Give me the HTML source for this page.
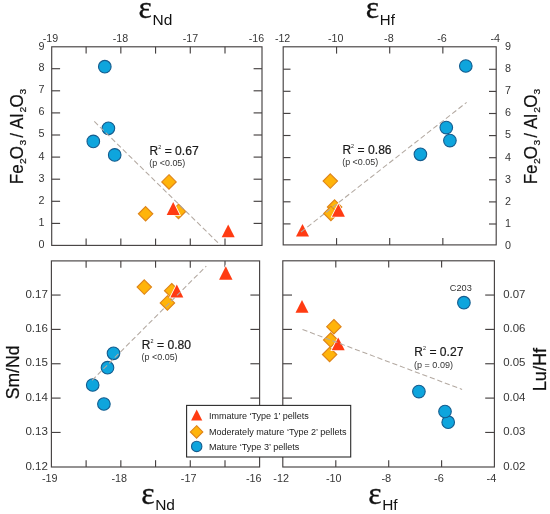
<!DOCTYPE html>
<html lang="en"><head><meta charset="utf-8"><title>Pellet isotope plots</title>
<style>
html,body{margin:0;padding:0;background:#fff;}
body{width:550px;height:514px;overflow:hidden;}
svg{display:block;font-family:"Liberation Sans","DejaVu Sans",sans-serif;}
</style></head><body>
<svg width="550" height="514" viewBox="0 0 550 514">
<rect x="0" y="0" width="550" height="514" fill="#ffffff"/>
<rect x="51.70" y="46.80" width="210.30" height="198.60" fill="none" stroke="#464242" stroke-width="1.15"/>
<rect x="283.20" y="46.80" width="213.00" height="198.10" fill="none" stroke="#464242" stroke-width="1.15"/>
<rect x="51.40" y="260.90" width="208.20" height="206.10" fill="none" stroke="#464242" stroke-width="1.15"/>
<rect x="282.80" y="260.80" width="211.60" height="206.20" fill="none" stroke="#464242" stroke-width="1.15"/>
<line x1="86.12" y1="46.80" x2="86.12" y2="53.60" stroke="#464242" stroke-width="1.15" />
<line x1="86.12" y1="245.40" x2="86.12" y2="238.60" stroke="#464242" stroke-width="1.15" />
<line x1="86.12" y1="260.90" x2="86.12" y2="267.70" stroke="#464242" stroke-width="1.15" />
<line x1="86.12" y1="467.00" x2="86.12" y2="460.20" stroke="#464242" stroke-width="1.15" />
<line x1="120.84" y1="46.80" x2="120.84" y2="53.60" stroke="#464242" stroke-width="1.15" />
<line x1="120.84" y1="245.40" x2="120.84" y2="238.60" stroke="#464242" stroke-width="1.15" />
<line x1="120.84" y1="260.90" x2="120.84" y2="267.70" stroke="#464242" stroke-width="1.15" />
<line x1="120.84" y1="467.00" x2="120.84" y2="460.20" stroke="#464242" stroke-width="1.15" />
<line x1="155.56" y1="46.80" x2="155.56" y2="53.60" stroke="#464242" stroke-width="1.15" />
<line x1="155.56" y1="245.40" x2="155.56" y2="238.60" stroke="#464242" stroke-width="1.15" />
<line x1="155.56" y1="260.90" x2="155.56" y2="267.70" stroke="#464242" stroke-width="1.15" />
<line x1="155.56" y1="467.00" x2="155.56" y2="460.20" stroke="#464242" stroke-width="1.15" />
<line x1="190.28" y1="46.80" x2="190.28" y2="53.60" stroke="#464242" stroke-width="1.15" />
<line x1="190.28" y1="245.40" x2="190.28" y2="238.60" stroke="#464242" stroke-width="1.15" />
<line x1="190.28" y1="260.90" x2="190.28" y2="267.70" stroke="#464242" stroke-width="1.15" />
<line x1="190.28" y1="467.00" x2="190.28" y2="460.20" stroke="#464242" stroke-width="1.15" />
<line x1="225.00" y1="46.80" x2="225.00" y2="53.60" stroke="#464242" stroke-width="1.15" />
<line x1="225.00" y1="245.40" x2="225.00" y2="238.60" stroke="#464242" stroke-width="1.15" />
<line x1="225.00" y1="260.90" x2="225.00" y2="267.70" stroke="#464242" stroke-width="1.15" />
<line x1="225.00" y1="467.00" x2="225.00" y2="460.20" stroke="#464242" stroke-width="1.15" />
<line x1="336.55" y1="46.80" x2="336.55" y2="53.60" stroke="#464242" stroke-width="1.15" />
<line x1="336.55" y1="244.90" x2="336.55" y2="238.10" stroke="#464242" stroke-width="1.15" />
<line x1="389.70" y1="46.80" x2="389.70" y2="53.60" stroke="#464242" stroke-width="1.15" />
<line x1="389.70" y1="244.90" x2="389.70" y2="238.10" stroke="#464242" stroke-width="1.15" />
<line x1="442.85" y1="46.80" x2="442.85" y2="53.60" stroke="#464242" stroke-width="1.15" />
<line x1="442.85" y1="244.90" x2="442.85" y2="238.10" stroke="#464242" stroke-width="1.15" />
<line x1="335.80" y1="260.80" x2="335.80" y2="267.60" stroke="#464242" stroke-width="1.15" />
<line x1="335.80" y1="467.00" x2="335.80" y2="460.20" stroke="#464242" stroke-width="1.15" />
<line x1="388.70" y1="260.80" x2="388.70" y2="267.60" stroke="#464242" stroke-width="1.15" />
<line x1="388.70" y1="467.00" x2="388.70" y2="460.20" stroke="#464242" stroke-width="1.15" />
<line x1="441.60" y1="260.80" x2="441.60" y2="267.60" stroke="#464242" stroke-width="1.15" />
<line x1="441.60" y1="467.00" x2="441.60" y2="460.20" stroke="#464242" stroke-width="1.15" />
<line x1="51.70" y1="223.40" x2="60.10" y2="223.40" stroke="#464242" stroke-width="1.15" />
<line x1="262.00" y1="223.40" x2="253.60" y2="223.40" stroke="#464242" stroke-width="1.15" />
<line x1="283.20" y1="223.90" x2="290.50" y2="223.90" stroke="#464242" stroke-width="1.15" />
<line x1="496.20" y1="224.00" x2="489.00" y2="224.00" stroke="#464242" stroke-width="1.15" />
<line x1="51.70" y1="201.30" x2="60.10" y2="201.30" stroke="#464242" stroke-width="1.15" />
<line x1="262.00" y1="201.30" x2="253.60" y2="201.30" stroke="#464242" stroke-width="1.15" />
<line x1="283.20" y1="201.80" x2="290.50" y2="201.80" stroke="#464242" stroke-width="1.15" />
<line x1="496.20" y1="201.90" x2="489.00" y2="201.90" stroke="#464242" stroke-width="1.15" />
<line x1="51.70" y1="179.20" x2="60.10" y2="179.20" stroke="#464242" stroke-width="1.15" />
<line x1="262.00" y1="179.20" x2="253.60" y2="179.20" stroke="#464242" stroke-width="1.15" />
<line x1="283.20" y1="179.70" x2="290.50" y2="179.70" stroke="#464242" stroke-width="1.15" />
<line x1="496.20" y1="179.80" x2="489.00" y2="179.80" stroke="#464242" stroke-width="1.15" />
<line x1="51.70" y1="157.10" x2="60.10" y2="157.10" stroke="#464242" stroke-width="1.15" />
<line x1="262.00" y1="157.10" x2="253.60" y2="157.10" stroke="#464242" stroke-width="1.15" />
<line x1="283.20" y1="157.60" x2="290.50" y2="157.60" stroke="#464242" stroke-width="1.15" />
<line x1="496.20" y1="157.70" x2="489.00" y2="157.70" stroke="#464242" stroke-width="1.15" />
<line x1="51.70" y1="135.00" x2="60.10" y2="135.00" stroke="#464242" stroke-width="1.15" />
<line x1="262.00" y1="135.00" x2="253.60" y2="135.00" stroke="#464242" stroke-width="1.15" />
<line x1="283.20" y1="135.50" x2="290.50" y2="135.50" stroke="#464242" stroke-width="1.15" />
<line x1="496.20" y1="135.60" x2="489.00" y2="135.60" stroke="#464242" stroke-width="1.15" />
<line x1="51.70" y1="112.90" x2="60.10" y2="112.90" stroke="#464242" stroke-width="1.15" />
<line x1="262.00" y1="112.90" x2="253.60" y2="112.90" stroke="#464242" stroke-width="1.15" />
<line x1="283.20" y1="113.40" x2="290.50" y2="113.40" stroke="#464242" stroke-width="1.15" />
<line x1="496.20" y1="113.50" x2="489.00" y2="113.50" stroke="#464242" stroke-width="1.15" />
<line x1="51.70" y1="90.80" x2="60.10" y2="90.80" stroke="#464242" stroke-width="1.15" />
<line x1="262.00" y1="90.80" x2="253.60" y2="90.80" stroke="#464242" stroke-width="1.15" />
<line x1="283.20" y1="91.30" x2="290.50" y2="91.30" stroke="#464242" stroke-width="1.15" />
<line x1="496.20" y1="91.40" x2="489.00" y2="91.40" stroke="#464242" stroke-width="1.15" />
<line x1="51.70" y1="68.70" x2="60.10" y2="68.70" stroke="#464242" stroke-width="1.15" />
<line x1="262.00" y1="68.70" x2="253.60" y2="68.70" stroke="#464242" stroke-width="1.15" />
<line x1="283.20" y1="69.20" x2="290.50" y2="69.20" stroke="#464242" stroke-width="1.15" />
<line x1="496.20" y1="69.30" x2="489.00" y2="69.30" stroke="#464242" stroke-width="1.15" />
<line x1="51.40" y1="432.45" x2="60.60" y2="432.45" stroke="#464242" stroke-width="1.15" />
<line x1="259.60" y1="432.45" x2="250.40" y2="432.45" stroke="#464242" stroke-width="1.15" />
<line x1="282.80" y1="432.45" x2="292.00" y2="432.45" stroke="#464242" stroke-width="1.15" />
<line x1="494.40" y1="432.45" x2="485.20" y2="432.45" stroke="#464242" stroke-width="1.15" />
<line x1="51.40" y1="398.10" x2="60.60" y2="398.10" stroke="#464242" stroke-width="1.15" />
<line x1="259.60" y1="398.10" x2="250.40" y2="398.10" stroke="#464242" stroke-width="1.15" />
<line x1="282.80" y1="398.10" x2="292.00" y2="398.10" stroke="#464242" stroke-width="1.15" />
<line x1="494.40" y1="398.10" x2="485.20" y2="398.10" stroke="#464242" stroke-width="1.15" />
<line x1="51.40" y1="363.75" x2="60.60" y2="363.75" stroke="#464242" stroke-width="1.15" />
<line x1="259.60" y1="363.75" x2="250.40" y2="363.75" stroke="#464242" stroke-width="1.15" />
<line x1="282.80" y1="363.75" x2="292.00" y2="363.75" stroke="#464242" stroke-width="1.15" />
<line x1="494.40" y1="363.75" x2="485.20" y2="363.75" stroke="#464242" stroke-width="1.15" />
<line x1="51.40" y1="329.40" x2="60.60" y2="329.40" stroke="#464242" stroke-width="1.15" />
<line x1="259.60" y1="329.40" x2="250.40" y2="329.40" stroke="#464242" stroke-width="1.15" />
<line x1="282.80" y1="329.40" x2="292.00" y2="329.40" stroke="#464242" stroke-width="1.15" />
<line x1="494.40" y1="329.40" x2="485.20" y2="329.40" stroke="#464242" stroke-width="1.15" />
<line x1="51.40" y1="295.05" x2="60.60" y2="295.05" stroke="#464242" stroke-width="1.15" />
<line x1="259.60" y1="295.05" x2="250.40" y2="295.05" stroke="#464242" stroke-width="1.15" />
<line x1="282.80" y1="295.05" x2="292.00" y2="295.05" stroke="#464242" stroke-width="1.15" />
<line x1="494.40" y1="295.05" x2="485.20" y2="295.05" stroke="#464242" stroke-width="1.15" />
<text x="50.40" y="41.80" font-size="10.5" text-anchor="middle" fill="#363636" textLength="15.40" lengthAdjust="spacingAndGlyphs" >-19</text>
<text x="120.40" y="41.80" font-size="10.5" text-anchor="middle" fill="#363636" textLength="15.40" lengthAdjust="spacingAndGlyphs" >-18</text>
<text x="190.40" y="41.80" font-size="10.5" text-anchor="middle" fill="#363636" textLength="15.40" lengthAdjust="spacingAndGlyphs" >-17</text>
<text x="256.40" y="41.80" font-size="10.5" text-anchor="middle" fill="#363636" textLength="15.40" lengthAdjust="spacingAndGlyphs" >-16</text>
<text x="282.60" y="41.80" font-size="10.5" text-anchor="middle" fill="#363636" textLength="15.40" lengthAdjust="spacingAndGlyphs" >-12</text>
<text x="335.75" y="41.80" font-size="10.5" text-anchor="middle" fill="#363636" textLength="15.40" lengthAdjust="spacingAndGlyphs" >-10</text>
<text x="388.90" y="41.80" font-size="10.5" text-anchor="middle" fill="#363636" textLength="9.60" lengthAdjust="spacingAndGlyphs" >-8</text>
<text x="442.05" y="41.80" font-size="10.5" text-anchor="middle" fill="#363636" textLength="9.60" lengthAdjust="spacingAndGlyphs" >-6</text>
<text x="495.20" y="41.80" font-size="10.5" text-anchor="middle" fill="#363636" textLength="9.60" lengthAdjust="spacingAndGlyphs" >-4</text>
<text x="44.40" y="247.90" font-size="10.5" text-anchor="end" fill="#363636" textLength="6.00" lengthAdjust="spacingAndGlyphs" >0</text>
<text x="505.00" y="248.90" font-size="10.5" text-anchor="start" fill="#363636" textLength="6.00" lengthAdjust="spacingAndGlyphs" >0</text>
<text x="44.40" y="225.80" font-size="10.5" text-anchor="end" fill="#363636" textLength="6.00" lengthAdjust="spacingAndGlyphs" >1</text>
<text x="505.00" y="226.80" font-size="10.5" text-anchor="start" fill="#363636" textLength="6.00" lengthAdjust="spacingAndGlyphs" >1</text>
<text x="44.40" y="203.70" font-size="10.5" text-anchor="end" fill="#363636" textLength="6.00" lengthAdjust="spacingAndGlyphs" >2</text>
<text x="505.00" y="204.70" font-size="10.5" text-anchor="start" fill="#363636" textLength="6.00" lengthAdjust="spacingAndGlyphs" >2</text>
<text x="44.40" y="181.60" font-size="10.5" text-anchor="end" fill="#363636" textLength="6.00" lengthAdjust="spacingAndGlyphs" >3</text>
<text x="505.00" y="182.60" font-size="10.5" text-anchor="start" fill="#363636" textLength="6.00" lengthAdjust="spacingAndGlyphs" >3</text>
<text x="44.40" y="159.50" font-size="10.5" text-anchor="end" fill="#363636" textLength="6.00" lengthAdjust="spacingAndGlyphs" >4</text>
<text x="505.00" y="160.50" font-size="10.5" text-anchor="start" fill="#363636" textLength="6.00" lengthAdjust="spacingAndGlyphs" >4</text>
<text x="44.40" y="137.40" font-size="10.5" text-anchor="end" fill="#363636" textLength="6.00" lengthAdjust="spacingAndGlyphs" >5</text>
<text x="505.00" y="138.40" font-size="10.5" text-anchor="start" fill="#363636" textLength="6.00" lengthAdjust="spacingAndGlyphs" >5</text>
<text x="44.40" y="115.30" font-size="10.5" text-anchor="end" fill="#363636" textLength="6.00" lengthAdjust="spacingAndGlyphs" >6</text>
<text x="505.00" y="116.30" font-size="10.5" text-anchor="start" fill="#363636" textLength="6.00" lengthAdjust="spacingAndGlyphs" >6</text>
<text x="44.40" y="93.20" font-size="10.5" text-anchor="end" fill="#363636" textLength="6.00" lengthAdjust="spacingAndGlyphs" >7</text>
<text x="505.00" y="94.20" font-size="10.5" text-anchor="start" fill="#363636" textLength="6.00" lengthAdjust="spacingAndGlyphs" >7</text>
<text x="44.40" y="71.10" font-size="10.5" text-anchor="end" fill="#363636" textLength="6.00" lengthAdjust="spacingAndGlyphs" >8</text>
<text x="505.00" y="72.10" font-size="10.5" text-anchor="start" fill="#363636" textLength="6.00" lengthAdjust="spacingAndGlyphs" >8</text>
<text x="44.40" y="49.80" font-size="10.5" text-anchor="end" fill="#363636" textLength="6.00" lengthAdjust="spacingAndGlyphs" >9</text>
<text x="505.00" y="49.50" font-size="10.5" text-anchor="start" fill="#363636" textLength="6.00" lengthAdjust="spacingAndGlyphs" >9</text>
<text x="49.80" y="482.30" font-size="10.5" text-anchor="middle" fill="#363636" textLength="15.60" lengthAdjust="spacingAndGlyphs" >-19</text>
<text x="119.24" y="482.30" font-size="10.5" text-anchor="middle" fill="#363636" textLength="15.60" lengthAdjust="spacingAndGlyphs" >-18</text>
<text x="188.68" y="482.30" font-size="10.5" text-anchor="middle" fill="#363636" textLength="15.60" lengthAdjust="spacingAndGlyphs" >-17</text>
<text x="253.72" y="482.30" font-size="10.5" text-anchor="middle" fill="#363636" textLength="15.60" lengthAdjust="spacingAndGlyphs" >-16</text>
<text x="281.10" y="482.30" font-size="10.5" text-anchor="middle" fill="#363636" textLength="15.60" lengthAdjust="spacingAndGlyphs" >-12</text>
<text x="333.70" y="482.30" font-size="10.5" text-anchor="middle" fill="#363636" textLength="15.60" lengthAdjust="spacingAndGlyphs" >-10</text>
<text x="386.30" y="482.30" font-size="10.5" text-anchor="middle" fill="#363636" textLength="9.80" lengthAdjust="spacingAndGlyphs" >-8</text>
<text x="438.90" y="482.30" font-size="10.5" text-anchor="middle" fill="#363636" textLength="9.80" lengthAdjust="spacingAndGlyphs" >-6</text>
<text x="491.50" y="482.30" font-size="10.5" text-anchor="middle" fill="#363636" textLength="9.80" lengthAdjust="spacingAndGlyphs" >-4</text>
<text x="47.90" y="470.00" font-size="10.5" text-anchor="end" fill="#363636" textLength="22.50" lengthAdjust="spacingAndGlyphs" >0.12</text>
<text x="47.90" y="435.05" font-size="10.5" text-anchor="end" fill="#363636" textLength="22.50" lengthAdjust="spacingAndGlyphs" >0.13</text>
<text x="47.90" y="400.70" font-size="10.5" text-anchor="end" fill="#363636" textLength="22.50" lengthAdjust="spacingAndGlyphs" >0.14</text>
<text x="47.90" y="366.35" font-size="10.5" text-anchor="end" fill="#363636" textLength="22.50" lengthAdjust="spacingAndGlyphs" >0.15</text>
<text x="47.90" y="332.00" font-size="10.5" text-anchor="end" fill="#363636" textLength="22.50" lengthAdjust="spacingAndGlyphs" >0.16</text>
<text x="47.90" y="297.65" font-size="10.5" text-anchor="end" fill="#363636" textLength="22.50" lengthAdjust="spacingAndGlyphs" >0.17</text>
<text x="503.20" y="470.00" font-size="10.5" text-anchor="start" fill="#363636" textLength="22.30" lengthAdjust="spacingAndGlyphs" >0.02</text>
<text x="503.20" y="435.05" font-size="10.5" text-anchor="start" fill="#363636" textLength="22.30" lengthAdjust="spacingAndGlyphs" >0.03</text>
<text x="503.20" y="400.70" font-size="10.5" text-anchor="start" fill="#363636" textLength="22.30" lengthAdjust="spacingAndGlyphs" >0.04</text>
<text x="503.20" y="366.35" font-size="10.5" text-anchor="start" fill="#363636" textLength="22.30" lengthAdjust="spacingAndGlyphs" >0.05</text>
<text x="503.20" y="332.00" font-size="10.5" text-anchor="start" fill="#363636" textLength="22.30" lengthAdjust="spacingAndGlyphs" >0.06</text>
<text x="503.20" y="297.65" font-size="10.5" text-anchor="start" fill="#363636" textLength="22.30" lengthAdjust="spacingAndGlyphs" >0.07</text>
<circle cx="104.80" cy="66.70" r="6.3" fill="#0ea5dd" stroke="#155c8e" stroke-width="1.1"/>
<circle cx="108.40" cy="128.30" r="6.3" fill="#0ea5dd" stroke="#155c8e" stroke-width="1.1"/>
<circle cx="93.30" cy="141.40" r="6.3" fill="#0ea5dd" stroke="#155c8e" stroke-width="1.1"/>
<circle cx="114.70" cy="154.90" r="6.3" fill="#0ea5dd" stroke="#155c8e" stroke-width="1.1"/>
<path d="M169.00 174.70L176.20 181.90L169.00 189.10L161.80 181.90Z" fill="#ffb40a" stroke="#df8418" stroke-width="1.15"/>
<path d="M145.60 206.60L152.80 213.80L145.60 221.00L138.40 213.80Z" fill="#ffb40a" stroke="#df8418" stroke-width="1.15"/>
<path d="M178.50 204.20L185.70 211.40L178.50 218.60L171.30 211.40Z" fill="#ffb40a" stroke="#df8418" stroke-width="1.15"/>
<path d="M173.20 201.90L179.70 214.90L166.70 214.90Z" fill="#ff3b12" stroke="#fff" stroke-width="1.6" stroke-linejoin="miter" paint-order="stroke"/>
<path d="M228.20 224.50L234.70 237.20L221.70 237.20Z" fill="#ff3b12" stroke="#fff" stroke-width="1.6" stroke-linejoin="miter" paint-order="stroke"/>
<line x1="94.30" y1="121.40" x2="220.30" y2="245.00" stroke="#b3a9a1" stroke-width="1.05" stroke-dasharray="5.2 2.8"/>
<circle cx="465.80" cy="66.00" r="6.3" fill="#0ea5dd" stroke="#155c8e" stroke-width="1.1"/>
<circle cx="446.30" cy="127.60" r="6.3" fill="#0ea5dd" stroke="#155c8e" stroke-width="1.1"/>
<circle cx="449.90" cy="140.60" r="6.3" fill="#0ea5dd" stroke="#155c8e" stroke-width="1.1"/>
<circle cx="420.40" cy="154.30" r="6.3" fill="#0ea5dd" stroke="#155c8e" stroke-width="1.1"/>
<path d="M330.30 173.90L337.50 181.10L330.30 188.30L323.10 181.10Z" fill="#ffb40a" stroke="#df8418" stroke-width="1.15"/>
<path d="M334.60 199.80L341.80 207.00L334.60 214.20L327.40 207.00Z" fill="#ffb40a" stroke="#df8418" stroke-width="1.15"/>
<path d="M330.90 206.20L338.10 213.40L330.90 220.60L323.70 213.40Z" fill="#ffb40a" stroke="#df8418" stroke-width="1.15"/>
<path d="M338.40 204.10L344.90 216.80L331.90 216.80Z" fill="#ff3b12" stroke="#fff" stroke-width="1.6" stroke-linejoin="miter" paint-order="stroke"/>
<path d="M302.50 223.90L309.00 236.50L296.00 236.50Z" fill="#ff3b12" stroke="#fff" stroke-width="1.6" stroke-linejoin="miter" paint-order="stroke"/>
<line x1="301.00" y1="232.00" x2="466.60" y2="102.40" stroke="#b3a9a1" stroke-width="1.05" stroke-dasharray="5.2 2.8"/>
<circle cx="113.50" cy="353.30" r="6.3" fill="#0ea5dd" stroke="#155c8e" stroke-width="1.1"/>
<circle cx="107.50" cy="367.70" r="6.3" fill="#0ea5dd" stroke="#155c8e" stroke-width="1.1"/>
<circle cx="92.70" cy="385.00" r="6.3" fill="#0ea5dd" stroke="#155c8e" stroke-width="1.1"/>
<circle cx="103.90" cy="404.00" r="6.3" fill="#0ea5dd" stroke="#155c8e" stroke-width="1.1"/>
<path d="M144.30 279.90L151.50 287.10L144.30 294.30L137.10 287.10Z" fill="#ffb40a" stroke="#df8418" stroke-width="1.15"/>
<path d="M171.70 283.50L178.90 290.70L171.70 297.90L164.50 290.70Z" fill="#ffb40a" stroke="#df8418" stroke-width="1.15"/>
<path d="M167.40 295.70L174.60 302.90L167.40 310.10L160.20 302.90Z" fill="#ffb40a" stroke="#df8418" stroke-width="1.15"/>
<path d="M176.80 284.50L183.30 297.40L170.30 297.40Z" fill="#ff3b12" stroke="#fff" stroke-width="1.6" stroke-linejoin="miter" paint-order="stroke"/>
<path d="M225.80 266.30L232.50 279.80L219.10 279.80Z" fill="#ff3b12" stroke="#fff" stroke-width="1.6" stroke-linejoin="miter" paint-order="stroke"/>
<line x1="92.10" y1="380.30" x2="206.30" y2="266.10" stroke="#b3a9a1" stroke-width="1.05" stroke-dasharray="5.2 2.8"/>
<circle cx="463.90" cy="302.70" r="6.3" fill="#0ea5dd" stroke="#155c8e" stroke-width="1.1"/>
<circle cx="418.90" cy="391.60" r="6.3" fill="#0ea5dd" stroke="#155c8e" stroke-width="1.1"/>
<circle cx="448.20" cy="422.20" r="6.3" fill="#0ea5dd" stroke="#155c8e" stroke-width="1.1"/>
<circle cx="445.00" cy="411.50" r="6.3" fill="#0ea5dd" stroke="#155c8e" stroke-width="1.1"/>
<path d="M333.90 319.50L341.10 326.70L333.90 333.90L326.70 326.70Z" fill="#ffb40a" stroke="#df8418" stroke-width="1.15"/>
<path d="M330.70 332.80L337.90 340.00L330.70 347.20L323.50 340.00Z" fill="#ffb40a" stroke="#df8418" stroke-width="1.15"/>
<path d="M329.60 347.30L336.80 354.50L329.60 361.70L322.40 354.50Z" fill="#ffb40a" stroke="#df8418" stroke-width="1.15"/>
<path d="M302.00 300.10L308.50 312.80L295.50 312.80Z" fill="#ff3b12" stroke="#fff" stroke-width="1.6" stroke-linejoin="miter" paint-order="stroke"/>
<path d="M338.20 337.50L344.70 350.20L331.70 350.20Z" fill="#ff3b12" stroke="#fff" stroke-width="1.6" stroke-linejoin="miter" paint-order="stroke"/>
<line x1="302.50" y1="329.50" x2="462.10" y2="389.40" stroke="#b3a9a1" stroke-width="1.05" stroke-dasharray="5.2 2.8"/>
<text x="149.50" y="154.70" font-size="11.9" fill="#1a1a1a" stroke="#1a1a1a" stroke-width="0.2">R</text>
<text x="158.20" y="148.80" font-size="5.4" fill="#1a1a1a">2</text>
<text x="164.70" y="154.70" font-size="11.9" fill="#1a1a1a" stroke="#1a1a1a" stroke-width="0.2" textLength="34.0" lengthAdjust="spacingAndGlyphs">= 0.67</text>
<text x="149.30" y="166.00" font-size="9.0" text-anchor="start" fill="#333" textLength="36.00" lengthAdjust="spacingAndGlyphs" >(p &lt;0.05)</text>
<text x="342.40" y="153.90" font-size="11.9" fill="#1a1a1a" stroke="#1a1a1a" stroke-width="0.2">R</text>
<text x="351.10" y="148.00" font-size="5.4" fill="#1a1a1a">2</text>
<text x="357.60" y="153.90" font-size="11.9" fill="#1a1a1a" stroke="#1a1a1a" stroke-width="0.2" textLength="34.0" lengthAdjust="spacingAndGlyphs">= 0.86</text>
<text x="342.20" y="165.20" font-size="9.0" text-anchor="start" fill="#333" textLength="36.00" lengthAdjust="spacingAndGlyphs" >(p &lt;0.05)</text>
<text x="141.80" y="348.70" font-size="11.9" fill="#1a1a1a" stroke="#1a1a1a" stroke-width="0.2">R</text>
<text x="150.50" y="342.80" font-size="5.4" fill="#1a1a1a">2</text>
<text x="157.00" y="348.70" font-size="11.9" fill="#1a1a1a" stroke="#1a1a1a" stroke-width="0.2" textLength="34.0" lengthAdjust="spacingAndGlyphs">= 0.80</text>
<text x="141.60" y="360.00" font-size="9.0" text-anchor="start" fill="#333" textLength="36.00" lengthAdjust="spacingAndGlyphs" >(p &lt;0.05)</text>
<text x="414.20" y="356.20" font-size="11.9" fill="#1a1a1a" stroke="#1a1a1a" stroke-width="0.2">R</text>
<text x="422.90" y="350.30" font-size="5.4" fill="#1a1a1a">2</text>
<text x="429.40" y="356.20" font-size="11.9" fill="#1a1a1a" stroke="#1a1a1a" stroke-width="0.2" textLength="34.0" lengthAdjust="spacingAndGlyphs">= 0.27</text>
<text x="414.00" y="367.50" font-size="9.0" text-anchor="start" fill="#333" textLength="39.00" lengthAdjust="spacingAndGlyphs" >(p = 0.09)</text>
<text x="460.80" y="291.20" font-size="9.6" text-anchor="middle" fill="#333" textLength="22.00" lengthAdjust="spacingAndGlyphs" >C203</text>
<rect x="186.6" y="405.4" width="164.1" height="51.6" fill="#fff" stroke="#2a2a2a" stroke-width="1.1"/>
<path d="M196.70 409.60L202.30 420.50L191.10 420.50Z" fill="#ff3b12" stroke="#fff" stroke-width="1.6" stroke-linejoin="miter" paint-order="stroke"/>
<path d="M196.60 425.70L202.80 431.90L196.60 438.10L190.40 431.90Z" fill="#ffb40a" stroke="#df8418" stroke-width="1.15"/>
<circle cx="196.70" cy="446.40" r="5.2" fill="#0ea5dd" stroke="#155c8e" stroke-width="1.1"/>
<text x="208.90" y="418.60" font-size="9.6" text-anchor="start" fill="#222" textLength="100.00" lengthAdjust="spacingAndGlyphs" >Immature ‘Type 1’ pellets</text>
<text x="208.90" y="434.50" font-size="9.6" text-anchor="start" fill="#222" textLength="137.60" lengthAdjust="spacingAndGlyphs" >Moderately mature ‘Type 2’ pellets</text>
<text x="208.90" y="449.50" font-size="9.6" text-anchor="start" fill="#222" textLength="90.50" lengthAdjust="spacingAndGlyphs" >Mature ‘Type 3’ pellets</text>
<text transform="translate(138.50,18.30) scale(1.0,1)" x="0" y="0" font-family="'Liberation Serif', 'DejaVu Serif', serif" font-size="31.6" fill="#111" stroke="#111" stroke-width="0.35">ε</text>
<text x="152.50" y="24.50" font-size="15.0" text-anchor="start" fill="#111" textLength="19.80" lengthAdjust="spacingAndGlyphs" >Nd</text>
<text transform="translate(365.80,18.40) scale(1.0,1)" x="0" y="0" font-family="'Liberation Serif', 'DejaVu Serif', serif" font-size="31.6" fill="#111" stroke="#111" stroke-width="0.35">ε</text>
<text x="379.80" y="24.60" font-size="15.0" text-anchor="start" fill="#111" textLength="15.00" lengthAdjust="spacingAndGlyphs" >Hf</text>
<text transform="translate(141.20,503.90) scale(1.0,1)" x="0" y="0" font-family="'Liberation Serif', 'DejaVu Serif', serif" font-size="31.6" fill="#111" stroke="#111" stroke-width="0.35">ε</text>
<text x="155.20" y="510.10" font-size="15.0" text-anchor="start" fill="#111" textLength="19.80" lengthAdjust="spacingAndGlyphs" >Nd</text>
<text transform="translate(368.20,503.50) scale(1.0,1)" x="0" y="0" font-family="'Liberation Serif', 'DejaVu Serif', serif" font-size="31.6" fill="#111" stroke="#111" stroke-width="0.35">ε</text>
<text x="382.20" y="509.70" font-size="15.0" text-anchor="start" fill="#111" textLength="15.40" lengthAdjust="spacingAndGlyphs" >Hf</text>
<g transform="translate(23.0,182.9) rotate(-90)"><text transform="translate(-1.30,0) scale(0.92,1)" font-size="18.4" fill="#111" stroke="#111" stroke-width="0.2">Fe</text><text transform="translate(18.90,3.0) scale(1.1,1)" font-size="9.3" fill="#111" stroke="#111" stroke-width="0.2">2</text><text transform="translate(23.70,0) scale(0.92,1)" font-size="18.4" fill="#111" stroke="#111" stroke-width="0.2">O</text><text transform="translate(37.50,3.0) scale(1.1,1)" font-size="9.3" fill="#111" stroke="#111" stroke-width="0.2">3</text><text transform="translate(45.20,0) scale(0.92,1)" font-size="18.4" fill="#111" stroke="#111" stroke-width="0.2">/</text><text transform="translate(54.00,0) scale(0.92,1)" font-size="18.4" fill="#111" stroke="#111" stroke-width="0.2">Al</text><text transform="translate(70.30,3.0) scale(1.1,1)" font-size="9.3" fill="#111" stroke="#111" stroke-width="0.2">2</text><text transform="translate(75.30,0) scale(0.92,1)" font-size="18.4" fill="#111" stroke="#111" stroke-width="0.2">O</text><text transform="translate(88.40,3.0) scale(1.1,1)" font-size="9.3" fill="#111" stroke="#111" stroke-width="0.2">3</text></g>
<g transform="translate(536.6,183.0) rotate(-90)"><text transform="translate(-1.30,0) scale(0.92,1)" font-size="18.4" fill="#111" stroke="#111" stroke-width="0.2">Fe</text><text transform="translate(18.90,3.0) scale(1.1,1)" font-size="9.3" fill="#111" stroke="#111" stroke-width="0.2">2</text><text transform="translate(23.70,0) scale(0.92,1)" font-size="18.4" fill="#111" stroke="#111" stroke-width="0.2">O</text><text transform="translate(37.50,3.0) scale(1.1,1)" font-size="9.3" fill="#111" stroke="#111" stroke-width="0.2">3</text><text transform="translate(45.20,0) scale(0.92,1)" font-size="18.4" fill="#111" stroke="#111" stroke-width="0.2">/</text><text transform="translate(54.00,0) scale(0.92,1)" font-size="18.4" fill="#111" stroke="#111" stroke-width="0.2">Al</text><text transform="translate(70.30,3.0) scale(1.1,1)" font-size="9.3" fill="#111" stroke="#111" stroke-width="0.2">2</text><text transform="translate(75.30,0) scale(0.92,1)" font-size="18.4" fill="#111" stroke="#111" stroke-width="0.2">O</text><text transform="translate(88.40,3.0) scale(1.1,1)" font-size="9.3" fill="#111" stroke="#111" stroke-width="0.2">3</text></g>
<g transform="translate(19.1,399.2) rotate(-90)"><text x="0" y="0" font-size="18.4" fill="#111" stroke="#111" stroke-width="0.25" textLength="53.6" lengthAdjust="spacingAndGlyphs">Sm/Nd</text></g>
<g transform="translate(545.7,391.3) rotate(-90)"><text x="0" y="0" font-size="17.6" fill="#111" stroke="#111" stroke-width="0.25" textLength="43.4" lengthAdjust="spacingAndGlyphs">Lu/Hf</text></g>
</svg>
</body></html>
